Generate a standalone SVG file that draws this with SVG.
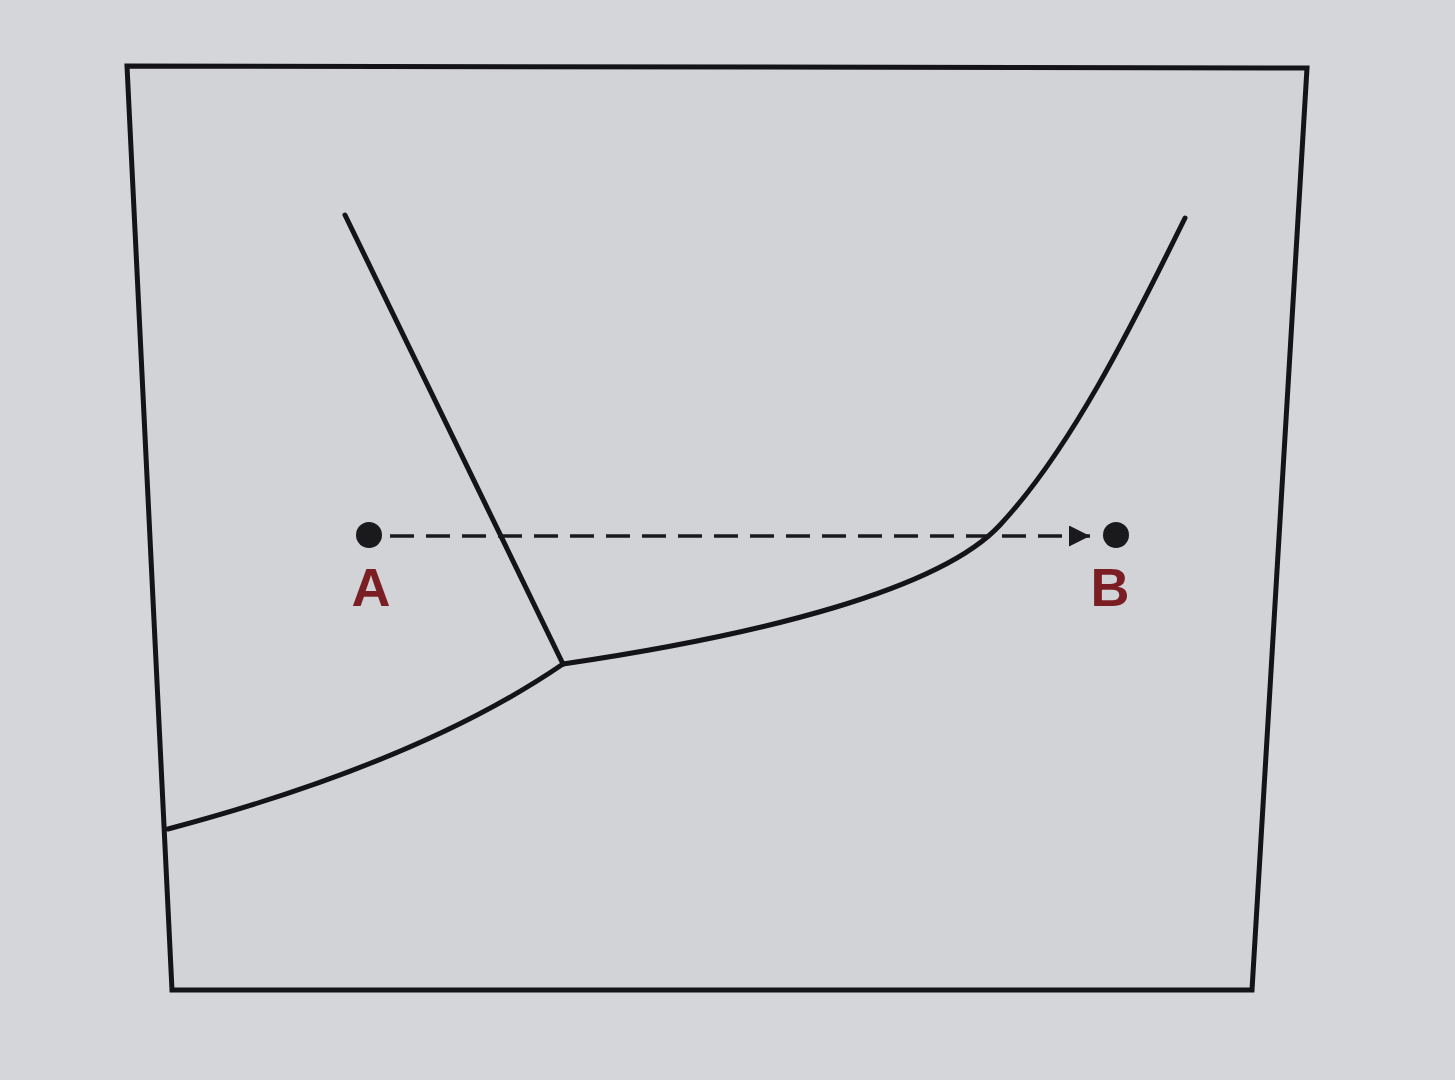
<svg xmlns="http://www.w3.org/2000/svg" width="1455" height="1080" viewBox="0 0 1455 1080">
<defs>
<style>
.ln{fill:none;stroke:#141418;stroke-width:5;stroke-linecap:round;stroke-linejoin:round}
.dot{fill:#1a1a1c}
.lbl{font-family:"Liberation Sans",Arial,sans-serif;font-weight:bold;font-size:54px;fill:#7a1e24;text-anchor:middle}
</style>
<marker id="ah" viewBox="0 0 10 10" refX="10" refY="5" markerWidth="6" markerHeight="6" markerUnits="strokeWidth" orient="auto"><path d="M0,0 L10,5 L0,10 z" fill="#1a1a1c"/></marker>
</defs>
<rect width="1455" height="1080" fill="#d4d6d9"/>
<g id="frame"><polygon points="127,66 1307,68 1252,990 172,990" fill="#d1d3d7" stroke="#141418" stroke-width="5"/></g>
<g id="curves">
<path class="ln" d="M345,215 L563,664"/>
<path class="ln" d="M168,829 Q420,762 563,664"/>
<path class="ln" d="M563,664 C760,635 940,590 1000,525 C1070,450 1130,330 1185,218"/>
</g>
<g id="connectors">
<path d="M390,536 L1090,536" fill="none" stroke="#1a1a1c" stroke-width="3.5" stroke-dasharray="24 12" marker-end="url(#ah)"/>
</g>
<g id="nodeA"><circle class="dot" cx="369" cy="535" r="13"/><text class="lbl" x="371" y="606">A</text></g>
<g id="nodeB"><circle class="dot" cx="1116" cy="535" r="13"/><text class="lbl" x="1110" y="606">B</text></g>
</svg>
